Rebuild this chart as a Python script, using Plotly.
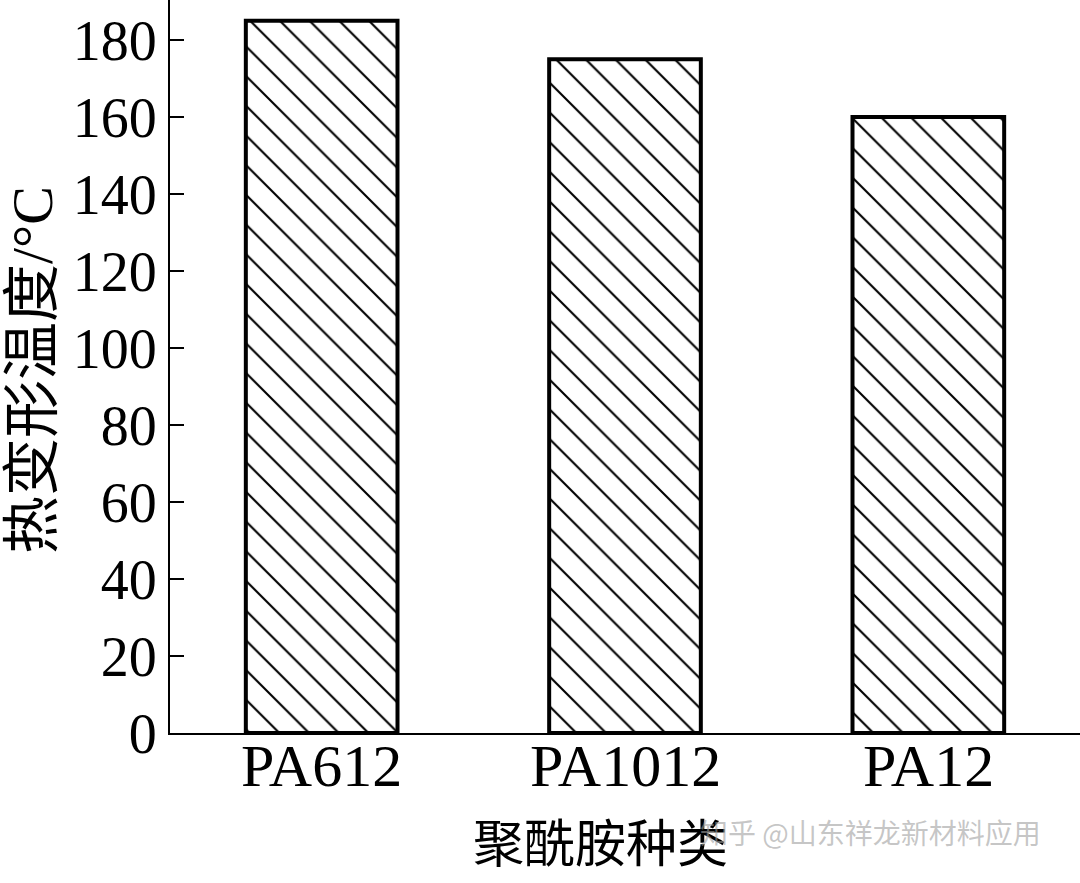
import plotly.graph_objects as go

categories = ["PA612", "PA1012", "PA12"]
hdt_values = [185, 175, 160]
y_ticks = [0, 20, 40, 60, 80, 100, 120, 140, 160, 180]

serif = "Liberation Serif, Times New Roman, serif"
serif_cjk = "Liberation Serif, Noto Sans CJK SC, serif"

L, R, T, B = 170, 0, 0, 150
W, H = 1080, 883
pw, ph = W - L - R, H - T - B

fig = go.Figure()
fig.add_trace(go.Bar(
    x=list(range(len(categories))),
    y=hdt_values,
    width=0.5,
    marker=dict(
        color="white",
        line=dict(color="black", width=4),
        pattern=dict(shape="\\", size=21, solidity=0.1, fgcolor="black",
                     bgcolor="white", fgopacity=1),
    ),
    showlegend=False,
))

# category labels just under the axis
for i, c in enumerate(categories):
    fig.add_annotation(
        text=c, x=i, xref="x", y=0, yref="paper", yanchor="top",
        yshift=2, showarrow=False,
        font=dict(size=60, family=serif, color="black"),
    )

fig.update_layout(
    width=W, height=H,
    margin=dict(l=L, r=R, t=T, b=B, autoexpand=False),
    plot_bgcolor="white", paper_bgcolor="white",
    font=dict(family=serif, color="black"),
    xaxis=dict(
        range=[-0.5, 2.5], automargin=False,
        showticklabels=False,
        showline=True, linecolor="black", linewidth=2,
        ticks="", showgrid=False, zeroline=False,
    ),
    yaxis=dict(
        range=[0, 190.4], automargin=False,
        tickmode="array", tickvals=y_ticks,
        showline=True, linecolor="black", linewidth=2,
        ticks="inside", ticklen=14, tickwidth=2, tickcolor="black",
        showgrid=False, zeroline=False,
        tickfont=dict(size=56, family=serif),
    ),
)

# y axis title
fig.add_annotation(
    text="热变形温度/°C", xref="paper", yref="paper",
    x=(32 - L) / pw, y=(H - B - 370) / ph, xanchor="center", yanchor="middle",
    textangle=-90, showarrow=False,
    font=dict(size=58, family=serif_cjk, color="black"),
)

# x axis title
fig.add_annotation(
    text="聚酰胺种类", xref="paper", yref="paper",
    x=(600 - L) / pw, y=-(840 - (H - B)) / ph, xanchor="center", yanchor="middle",
    showarrow=False,
    font=dict(size=51, family="Noto Sans CJK SC", color="black"),
)

# watermark
fig.add_annotation(
    text="知乎 @山东祥龙新材料应用", xref="paper", yref="paper",
    x=(1043 - L) / pw, y=-(832 - (H - B)) / ph, xanchor="right", yanchor="middle",
    showarrow=False,
    font=dict(size=28, color="rgba(160,160,160,0.6)", family="Noto Sans CJK SC"),
)

fig.write_html(
    "out.html",
    config={"displayModeBar": False},
    post_script="document.body.style.margin='0px';document.body.style.overflow='hidden';",
)
